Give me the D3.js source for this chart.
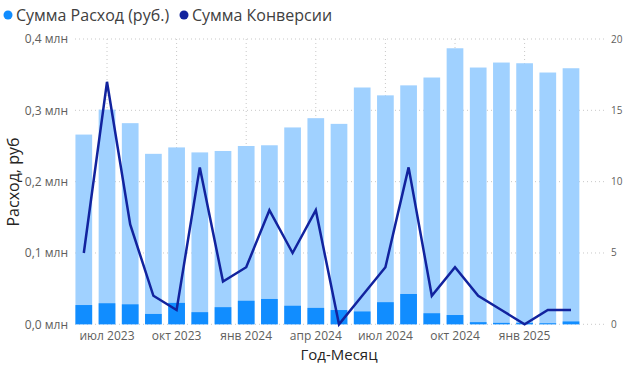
<!DOCTYPE html>
<html><head><meta charset="utf-8">
<script src="https://cdn.jsdelivr.net/npm/d3@7"></script>
<style>body{margin:0;background:#fff}svg{display:block}</style>
</head><body><svg id="c" width="630" height="365"></svg>
<script>
const months = ["2023-06","2023-07","2023-08","2023-09","2023-10","2023-11","2023-12","2024-01","2024-02","2024-03","2024-04","2024-05","2024-06","2024-07","2024-08","2024-09","2024-10","2024-11","2024-12","2025-01","2025-02","2025-03"];
const spendTotal = [0.266,0.301,0.282,0.239,0.248,0.241,0.243,0.250,0.251,0.276,0.289,0.281,0.332,0.321,0.335,0.346,0.387,0.360,0.367,0.366,0.353,0.359];
const spendHighlight = [0.027,0.0295,0.028,0.0145,0.030,0.017,0.024,0.033,0.0355,0.026,0.023,0.020,0.018,0.031,0.0425,0.0155,0.013,0.003,0.002,0.002,0.0015,0.004];
const conversions = [5,17,7,2,1,11,3,4,8,5,8,0,2,4,11,2,4,2,1,0,1,1];
const leftTicks = [0,0.1,0.2,0.3,0.4];
const leftTickLabels = ["0,0 млн","0,1 млн","0,2 млн","0,3 млн","0,4 млн"];
const rightTicks = [0,5,10,15,20];
const xTickMonths = ["2023-07","2023-10","2024-01","2024-04","2024-07","2024-10","2025-01"];
const xTickLabels = ["июл 2023","окт 2023","янв 2024","апр 2024","июл 2024","окт 2024","янв 2025"];

const svg = d3.select("#c");
const font = "'Open Sans', 'Noto Sans', sans-serif";
const plotL = 75, plotR = 605, plotTop = 39, plotBottom = 324.3;

const x = d3.scaleBand().domain(months).range([72.2, 582.6]).paddingInner(0.28).paddingOuter(0.14);
const y = d3.scaleLinear().domain([0,0.4]).range([plotBottom, plotTop]);
const y2 = d3.scaleLinear().domain([0,20]).range([plotBottom, plotTop]);

// horizontal grid
svg.append("g").selectAll("line").data(leftTicks).join("line")
  .attr("x1", plotL).attr("x2", plotR)
  .attr("y1", d => y(d)).attr("y2", d => y(d))
  .attr("stroke", "#c8c8c8").attr("stroke-dasharray", "1,3");
// vertical grid
svg.append("g").selectAll("line").data(xTickMonths).join("line")
  .attr("x1", d => x(d) + x.bandwidth()/2).attr("x2", d => x(d) + x.bandwidth()/2)
  .attr("y1", plotTop).attr("y2", plotBottom)
  .attr("stroke", "#c8c8c8").attr("stroke-dasharray", "1,3");

// bars
svg.append("g").selectAll("rect").data(months).join("rect")
  .attr("x", d => x(d)).attr("width", x.bandwidth())
  .attr("y", (d,i) => y(spendTotal[i])).attr("height", (d,i) => plotBottom - y(spendTotal[i]))
  .attr("fill", "#a0d1ff");
svg.append("g").selectAll("rect").data(months).join("rect")
  .attr("x", d => x(d)).attr("width", x.bandwidth())
  .attr("y", (d,i) => y(spendHighlight[i])).attr("height", (d,i) => plotBottom - y(spendHighlight[i]))
  .attr("fill", "#118dff");

// line
const line = d3.line().x((d,i) => x(months[i]) + x.bandwidth()/2).y(d => y2(d));
svg.append("path").datum(conversions).attr("d", line)
  .attr("fill", "none").attr("stroke", "#12239e").attr("stroke-width", 2.5).attr("stroke-linejoin", "miter");

// left axis labels
svg.append("g").selectAll("text").data(leftTicks).join("text")
  .attr("x", 68).attr("y", d => y(d)).attr("dy", "0.35em").attr("text-anchor", "end")
  .attr("font-family", font).attr("font-size", 12).attr("fill", "#605e5c")
  .text((d,i) => leftTickLabels[i]);
// right axis labels
svg.append("g").selectAll("text").data(rightTicks).join("text")
  .attr("x", 611).attr("y", d => y2(d)).attr("dy", "0.35em").attr("text-anchor", "start")
  .attr("font-family", font).attr("font-size", 10).attr("fill", "#605e5c")
  .text(d => d);
// x labels
svg.append("g").selectAll("text").data(xTickMonths).join("text")
  .attr("x", d => x(d) + x.bandwidth()/2).attr("y", 336).attr("dy", "0.35em").attr("text-anchor", "middle")
  .attr("font-family", font).attr("font-size", 12).attr("fill", "#605e5c")
  .text((d,i) => xTickLabels[i]);

// axis titles
svg.append("text").attr("x", 339).attr("y", 355).attr("dy", "0.35em").attr("text-anchor", "middle")
  .attr("font-family", font).attr("font-size", 15).attr("fill", "#252423").text("Год-Месяц");
svg.append("text").attr("transform", "translate(13,182) rotate(-90)").attr("dy", "0.35em").attr("text-anchor", "middle")
  .attr("font-family", font).attr("font-size", 16).attr("fill", "#252423").text("Расход, руб");

// legend
const legend = [{name:"Сумма Расход (руб.)", color:"#118dff", x:8},{name:"Сумма Конверсии", color:"#12239e", x:184}];
const lg = svg.append("g").selectAll("g").data(legend).join("g").attr("transform", d => `translate(${d.x},15)`);
lg.append("circle").attr("r", 4.5).attr("fill", d => d.color);
lg.append("text").attr("x", 8).attr("dy", "0.35em").attr("font-family", font).attr("font-size", 16)
  .attr("fill", "#404040").text(d => d.name);
</script></body></html>
